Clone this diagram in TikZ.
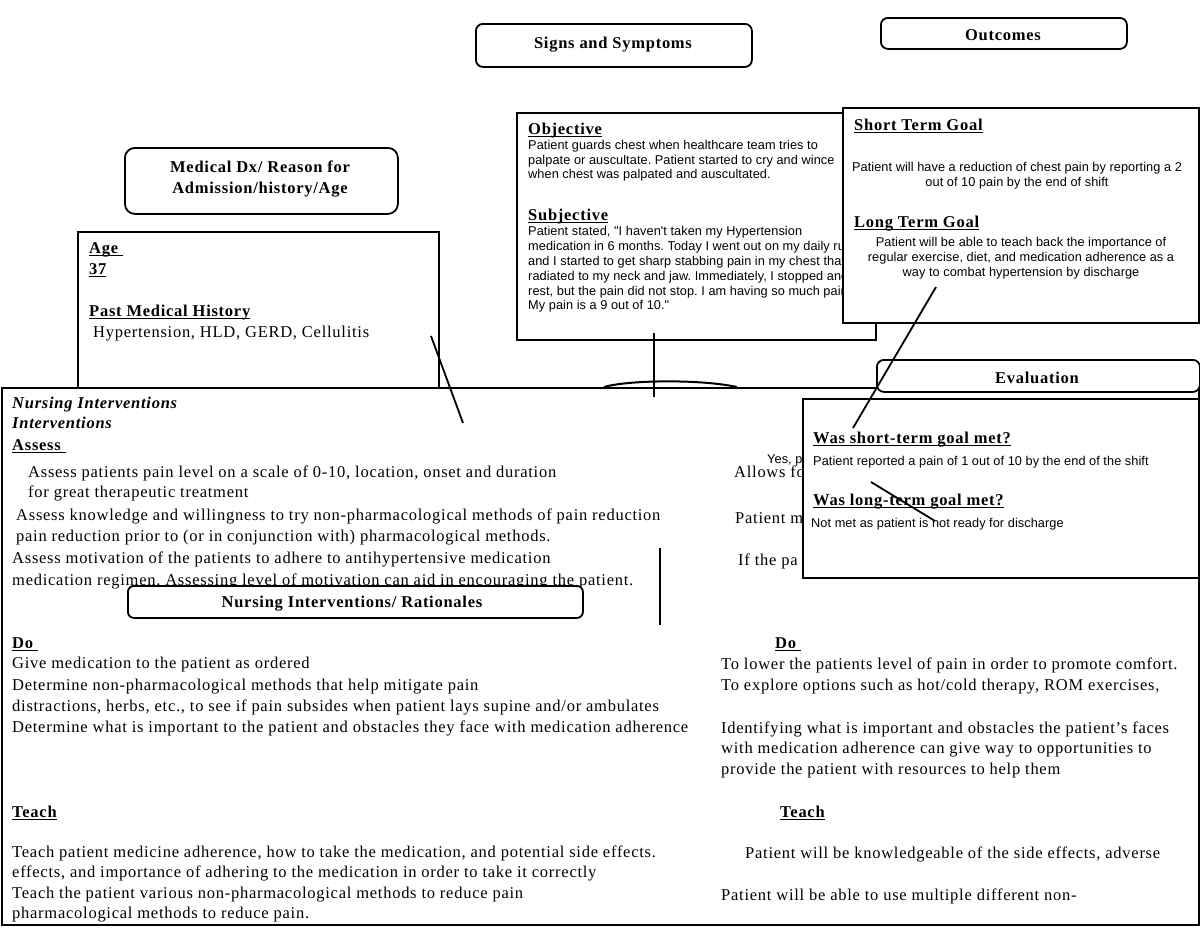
\documentclass[tikz,border=0pt]{standalone}
\usepackage{fontspec}
\newfontfamily\srf[LetterSpace=4.5,Ligatures=TeXOff]{Liberation Serif}
\newfontfamily\ssf[LetterSpace=0.5,Ligatures=TeXOff]{Liberation Sans}
\newcommand\myul[1]{\setbox0\hbox{#1}\rlap{\rule[-2.4pt]{\wd0}{0.9pt}}\box0}
\frenchspacing
\tikzset{
  sr/.style={anchor=base west, inner sep=0pt, font=\srf\fontsize{16.5}{20}\selectfont\frenchspacing},
  srb/.style={sr, font=\srf\bfseries\fontsize{16.5}{20}\selectfont\frenchspacing},
  srbi/.style={sr, font=\srf\bfseries\itshape\fontsize{16.5}{20}\selectfont\frenchspacing},
  ss/.style={anchor=base west, inner sep=0pt, font=\ssf\fontsize{12.75}{15}\selectfont\frenchspacing},
  ssc/.style={ss, anchor=base},
  box/.style={draw, line width=1.8pt, fill=white, anchor=north west, inner sep=0pt},
  rbox/.style={box, rounded corners=7pt},
  conn/.style={line width=1.8pt},
}
\begin{document}
\begin{tikzpicture}[x=1pt,y=-1pt]
\useasboundingbox (0,0) rectangle (1200,927);
\fill[white] (0,0) rectangle (1200,927);

% ---- top header boxes
\node[rbox, minimum width=276pt, minimum height=43pt] (signs) at (475,23) {};
\node[srb, anchor=base] (signsT) at (613,48) {Signs and Symptoms};
\node[rbox, minimum width=246pt, minimum height=31pt] (outc) at (880,17) {};
\node[srb, anchor=base] (outcT) at (1003,40) {Outcomes};
\node[rbox, rounded corners=10pt, minimum width=273pt, minimum height=66pt] (meddx) at (124,147) {};
\node[srb, anchor=base] (meddx1) at (260,172) {Medical Dx/ Reason for};
\node[srb, anchor=base] (meddx2) at (260,193) {Admission/history/Age};

% ---- age box
\node[box, minimum width=361pt, minimum height=156pt] (agebox) at (77,231) {};
\node[srb] (ageH) at (89,253) {\myul{Age~}};
\node[srb] (ageV) at (89,274) {\myul{37}};
\node[srb] (pmhH) at (89,316) {\myul{Past Medical History}};
\node[sr] (pmhV) at (93,337) {Hypertension, HLD, GERD, Cellulitis};

% ---- objective / subjective box
\node[box, minimum width=359pt, minimum height=227pt] (objbox) at (516,112) {};
\node[srb] (objH) at (528,134) {\myul{Objective}};
\node[ss] (obj1) at (528,149) {Patient guards chest when healthcare team tries to};
\node[ss] (obj2) at (528,164) {palpate or auscultate. Patient started to cry and wince};
\node[ss] (obj3) at (528,178) {when chest was palpated and auscultated.};
\node[srb] (subH) at (528,220) {\myul{Subjective}};
\node[ss] (sub1) at (528,235) {Patient stated, "I haven't taken my Hypertension};
\node[ss] (sub2) at (528,250) {medication in 6 months. Today I went out on my daily run};
\node[ss] (sub3) at (528,265) {and I started to get sharp stabbing pain in my chest that};
\node[ss] (sub4) at (528,280) {radiated to my neck and jaw. Immediately, I stopped and};
\node[ss] (sub5) at (528,295) {rest, but the pain did not stop. I am having so much pain.};
\node[ss] (sub6) at (528,309) {My pain is a 9 out of 10."};

% ---- goals box
\node[box, minimum width=356pt, minimum height=215pt] (goalbox) at (842,107) {};
\node[srb] (stgH) at (854,130) {\myul{Short Term Goal}};
\node[ssc] (stg1) at (1017,171) {Patient will have a reduction of chest pain by reporting a 2};
\node[ssc] (stg2) at (1017,186) {out of 10 pain by the end of shift};
\node[srb] (ltgH) at (854,227) {\myul{Long Term Goal}};
\node[ssc] (ltg1) at (1021,246) {Patient will be able to teach back the importance of};
\node[ssc] (ltg2) at (1021,261) {regular exercise, diet, and medication adherence as a};
\node[ssc] (ltg3) at (1021,276) {way to combat hypertension by discharge};

% ---- big interventions box
\node[box, minimum width=1197pt, minimum height=537pt] (bigbox) at (1,387) {};
\node[srbi] (ni1) at (12,408) {Nursing Interventions};
\node[srbi] (ni2) at (12,428) {Interventions};
\node[srb] (assH) at (12,450) {\myul{Assess~}};
\node[sr] (as1) at (28,477) {Assess patients pain level on a scale of 0-10, location, onset and duration};
\node[sr] (as2) at (28,497) {for great therapeutic treatment};
\node[sr] (as3) at (16,520) {Assess knowledge and willingness to try non-pharmacological methods of pain reduction};
\node[sr] (as4) at (16,541) {pain reduction prior to (or in conjunction with) pharmacological methods.};
\node[sr] (as5) at (12,563) {Assess motivation of the patients to adhere to antihypertensive medication};
\node[sr] (as6) at (12,585) {medication regimen. Assessing level of motivation can aid in encouraging the patient.};

\node[ss] (ryes) at (767,463) {Yes, p};
\node[sr] (ra1) at (734,477) {Allows fo};
\node[sr] (ra2) at (735,523) {Patient m};
\node[sr] (ra3) at (738,565) {If the pa};

\node[rbox, rounded corners=6pt, minimum width=455pt, minimum height=32pt] (nirbox) at (127,585) {};
\node[srb, anchor=base] (nirT) at (352,607) {Nursing Interventions/ Rationales};

\node[srb] (doH) at (12,648) {\myul{Do~}};
\node[sr] (do1) at (12,668) {Give medication to the patient as ordered};
\node[sr] (do2) at (12,690) {Determine non-pharmacological methods that help mitigate pain};
\node[sr] (do3) at (12,711) {distractions, herbs, etc., to see if pain subsides when patient lays supine and/or ambulates};
\node[sr] (do4) at (12,732) {Determine what is important to the patient and obstacles they face with medication adherence};
\node[srb] (teH) at (12,817) {\myul{Teach}};
\node[sr] (te1) at (12,857) {Teach patient medicine adherence, how to take the medication, and potential side effects.};
\node[sr] (te2) at (12,877) {effects, and importance of adhering to the medication in order to take it correctly};
\node[sr] (te3) at (12,898) {Teach the patient various non-pharmacological methods to reduce pain};
\node[sr] (te4) at (12,918) {pharmacological methods to reduce pain.};

\node[srb] (rdoH) at (775,648) {\myul{Do~}};
\node[sr] (rdo1) at (721,669) {To lower the patients level of pain in order to promote comfort.};
\node[sr] (rdo2) at (721,690) {To explore options such as hot/cold therapy, ROM exercises,};
\node[sr] (rdo3) at (721,733) {Identifying what is important and obstacles the patient’s faces};
\node[sr] (rdo4) at (721,753) {with medication adherence can give way to opportunities to};
\node[sr] (rdo5) at (721,774) {provide the patient with resources to help them};
\node[srb] (rteH) at (780,817) {\myul{Teach}};
\node[sr] (rte1) at (745,858) {Patient will be knowledgeable of the side effects, adverse};
\node[sr] (rte2) at (721,900) {Patient will be able to use multiple different non-};

% ---- bump and marks on the big box
\draw[line width=2pt] (604,387) .. controls (628,380) and (700,379) .. (737,387);
\coordinate (w1) at (660,548);
\coordinate (w2) at (660,625);
\draw[conn] (w1) -- (w2);

% ---- evaluation
\node[rbox, minimum width=323pt, minimum height=32pt] (evalh) at (876,359) {};
\node[srb, anchor=base] (evalT) at (1037,383) {Evaluation};
\node[box, minimum width=396pt, minimum height=179pt] (evalbox) at (802,398) {};
\node[srb] (ev1H) at (813,443) {\myul{Was short-term goal met?}};
\node[ss] (ev1) at (813,465) {Patient reported a pain of 1 out of 10 by the end of the shift};
\node[srb] (ev2H) at (813,505) {\myul{Was long-term goal met?}};
\node[ss] (ev2) at (811,527) {Not met as patient is not ready for discharge};

% ---- connectors
\coordinate (a1) at (431,336);
\coordinate (a2) at (463,423);
\draw[conn] (a1) -- (a2);
\coordinate (v1) at (654,333);
\coordinate (v2) at (654,397);
\draw[conn] (v1) -- (v2);
\coordinate (o1) at (936,287);
\coordinate (o2) at (853,428);
\draw[conn] (o1) -- (o2);
\coordinate (e1) at (871,482);
\coordinate (e2) at (935,521);
\draw[conn] (e1) -- (e2);
\end{tikzpicture}
\end{document}
